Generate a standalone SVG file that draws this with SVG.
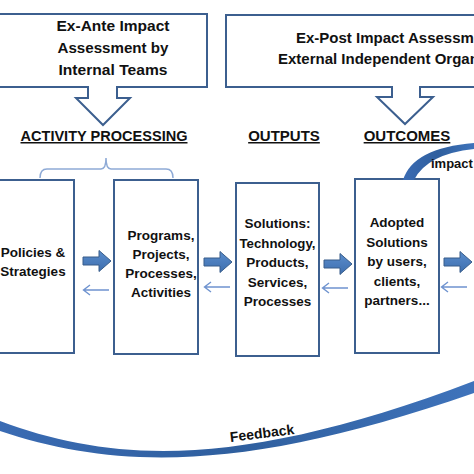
<svg xmlns="http://www.w3.org/2000/svg" width="474" height="474" viewBox="0 0 474 474">
<style>
.box{fill:#fff;stroke:#3c5f8f;stroke-width:2}
.t{font-family:"Liberation Sans",Arial,sans-serif;font-weight:bold;fill:#111;text-anchor:middle}
.big{font-size:15px}
.hdr{font-size:15px;text-decoration:underline}
.lbl{font-size:13.5px}
.blk{fill:url(#bg);stroke:#385d8a;stroke-width:1}
.thin{fill:none;stroke:#6f93cf;stroke-width:1.4}
.brace{fill:none;stroke:#8eaad6;stroke-width:1.5}
</style>
<defs>
<linearGradient id="bg" x1="0" y1="0" x2="0" y2="1">
<stop offset="0" stop-color="#5a8ccb"/>
<stop offset="1" stop-color="#3e6faf"/>
</linearGradient>
<linearGradient id="fg" x1="0" y1="0" x2="1" y2="0">
<stop offset="0" stop-color="#3a6bb3"/>
<stop offset="0.5" stop-color="#2f5f9e"/>
<stop offset="1" stop-color="#3f73bb"/>
</linearGradient>
<path id="blkarrow" d="M0,-4 H16 V-10.5 L28,0 L16,10.5 V4 H0 Z"/>
<path id="thinarrow" d="M26,0 H0.5 M7,-5 L0.5,0 L7,5"/>
</defs>

<g id="exante">
<path class="box" d="M-5,14 H207 V87 H117 V98 H130 L103,125 L76,98 H88 V87 H-5 Z"/>
<text class="t big" x="113" y="31" textLength="113" lengthAdjust="spacingAndGlyphs">Ex-Ante Impact</text>
<text class="t big" x="113" y="53" textLength="111" lengthAdjust="spacingAndGlyphs">Assessment by</text>
<text class="t big" x="113" y="75" textLength="109" lengthAdjust="spacingAndGlyphs">Internal Teams</text>
</g>

<g id="expost">
<path class="box" d="M226,15 H490 V87 H420 V97 H433 L405,124 L377,97 H392 V87 H226 Z"/>
<text class="t big" x="296" y="43" style="text-anchor:start">Ex-Post Impact Assessment by</text>
<text class="t big" x="278" y="64" style="text-anchor:start">External Independent Organizations</text>
</g>

<g id="headers">
<text class="t hdr" x="104" y="141" textLength="167" lengthAdjust="spacingAndGlyphs">ACTIVITY PROCESSING</text>
<text class="t hdr" x="284" y="141">OUTPUTS</text>
<text class="t hdr" x="407" y="141">OUTCOMES</text>
</g>

<path id="brace" class="brace" d="M40,178 Q40,169 47,169 H101 Q106,169 106,158 Q106,169 111,169 H166 Q173,169 173,178"/>

<g id="policies">
<rect class="box" x="-10" y="180" width="84" height="173"/>
<text class="t lbl" x="33" y="257">Policies &amp;</text>
<text class="t lbl" x="33" y="276">Strategies</text>
</g>

<g id="programs">
<rect class="box" x="114" y="180" width="84" height="174"/>
<text class="t lbl" x="161" y="240">Programs,</text>
<text class="t lbl" x="161" y="259">Projects,</text>
<text class="t lbl" x="161" y="278">Processes,</text>
<text class="t lbl" x="161" y="297">Activities</text>
</g>

<g id="solutions">
<rect class="box" x="236" y="183" width="83" height="173"/>
<text class="t lbl" x="277.5" y="228">Solutions:</text>
<text class="t lbl" x="277.5" y="247.5" textLength="76" lengthAdjust="spacingAndGlyphs">Technology,</text>
<text class="t lbl" x="277.5" y="267">Products,</text>
<text class="t lbl" x="277.5" y="286.5">Services,</text>
<text class="t lbl" x="277.5" y="306">Processes</text>
</g>

<g id="adopted">
<rect class="box" x="355" y="179" width="84" height="174"/>
<text class="t lbl" x="397" y="227">Adopted</text>
<text class="t lbl" x="397" y="246.5">Solutions</text>
<text class="t lbl" x="397" y="266">by users,</text>
<text class="t lbl" x="397" y="285.5">clients,</text>
<text class="t lbl" x="397" y="305">partners...</text>
</g>

<g id="connectors">
<use href="#blkarrow" class="blk" transform="translate(83,261)"/>
<use href="#blkarrow" class="blk" transform="translate(204,262)"/>
<use href="#blkarrow" class="blk" transform="translate(324,264)"/>
<use href="#blkarrow" class="blk" transform="translate(444,262)"/>
<use href="#thinarrow" class="thin" transform="translate(83,290)"/>
<use href="#thinarrow" class="thin" transform="translate(204,287)"/>
<use href="#thinarrow" class="thin" transform="translate(322,288)"/>
<use href="#thinarrow" class="thin" transform="translate(441,287)"/>
<path id="impact-arc" fill="url(#fg)" d="M403,180 Q413,148 474,143 L474,149 Q427,154 414,180 Z"/>
<path id="feedback-arc" fill="url(#fg)" d="M0,421 C120,466 250,466 474,381 L474,393 C250,471 120,471 0,431 Z"/>
</g>

<g id="labels">
<text class="t" x="431" y="168" style="font-size:13px;text-anchor:start">impact</text>
<text class="t" x="262" y="438" style="font-size:14px" transform="rotate(-7 262 433)">Feedback</text>
</g>
</svg>
